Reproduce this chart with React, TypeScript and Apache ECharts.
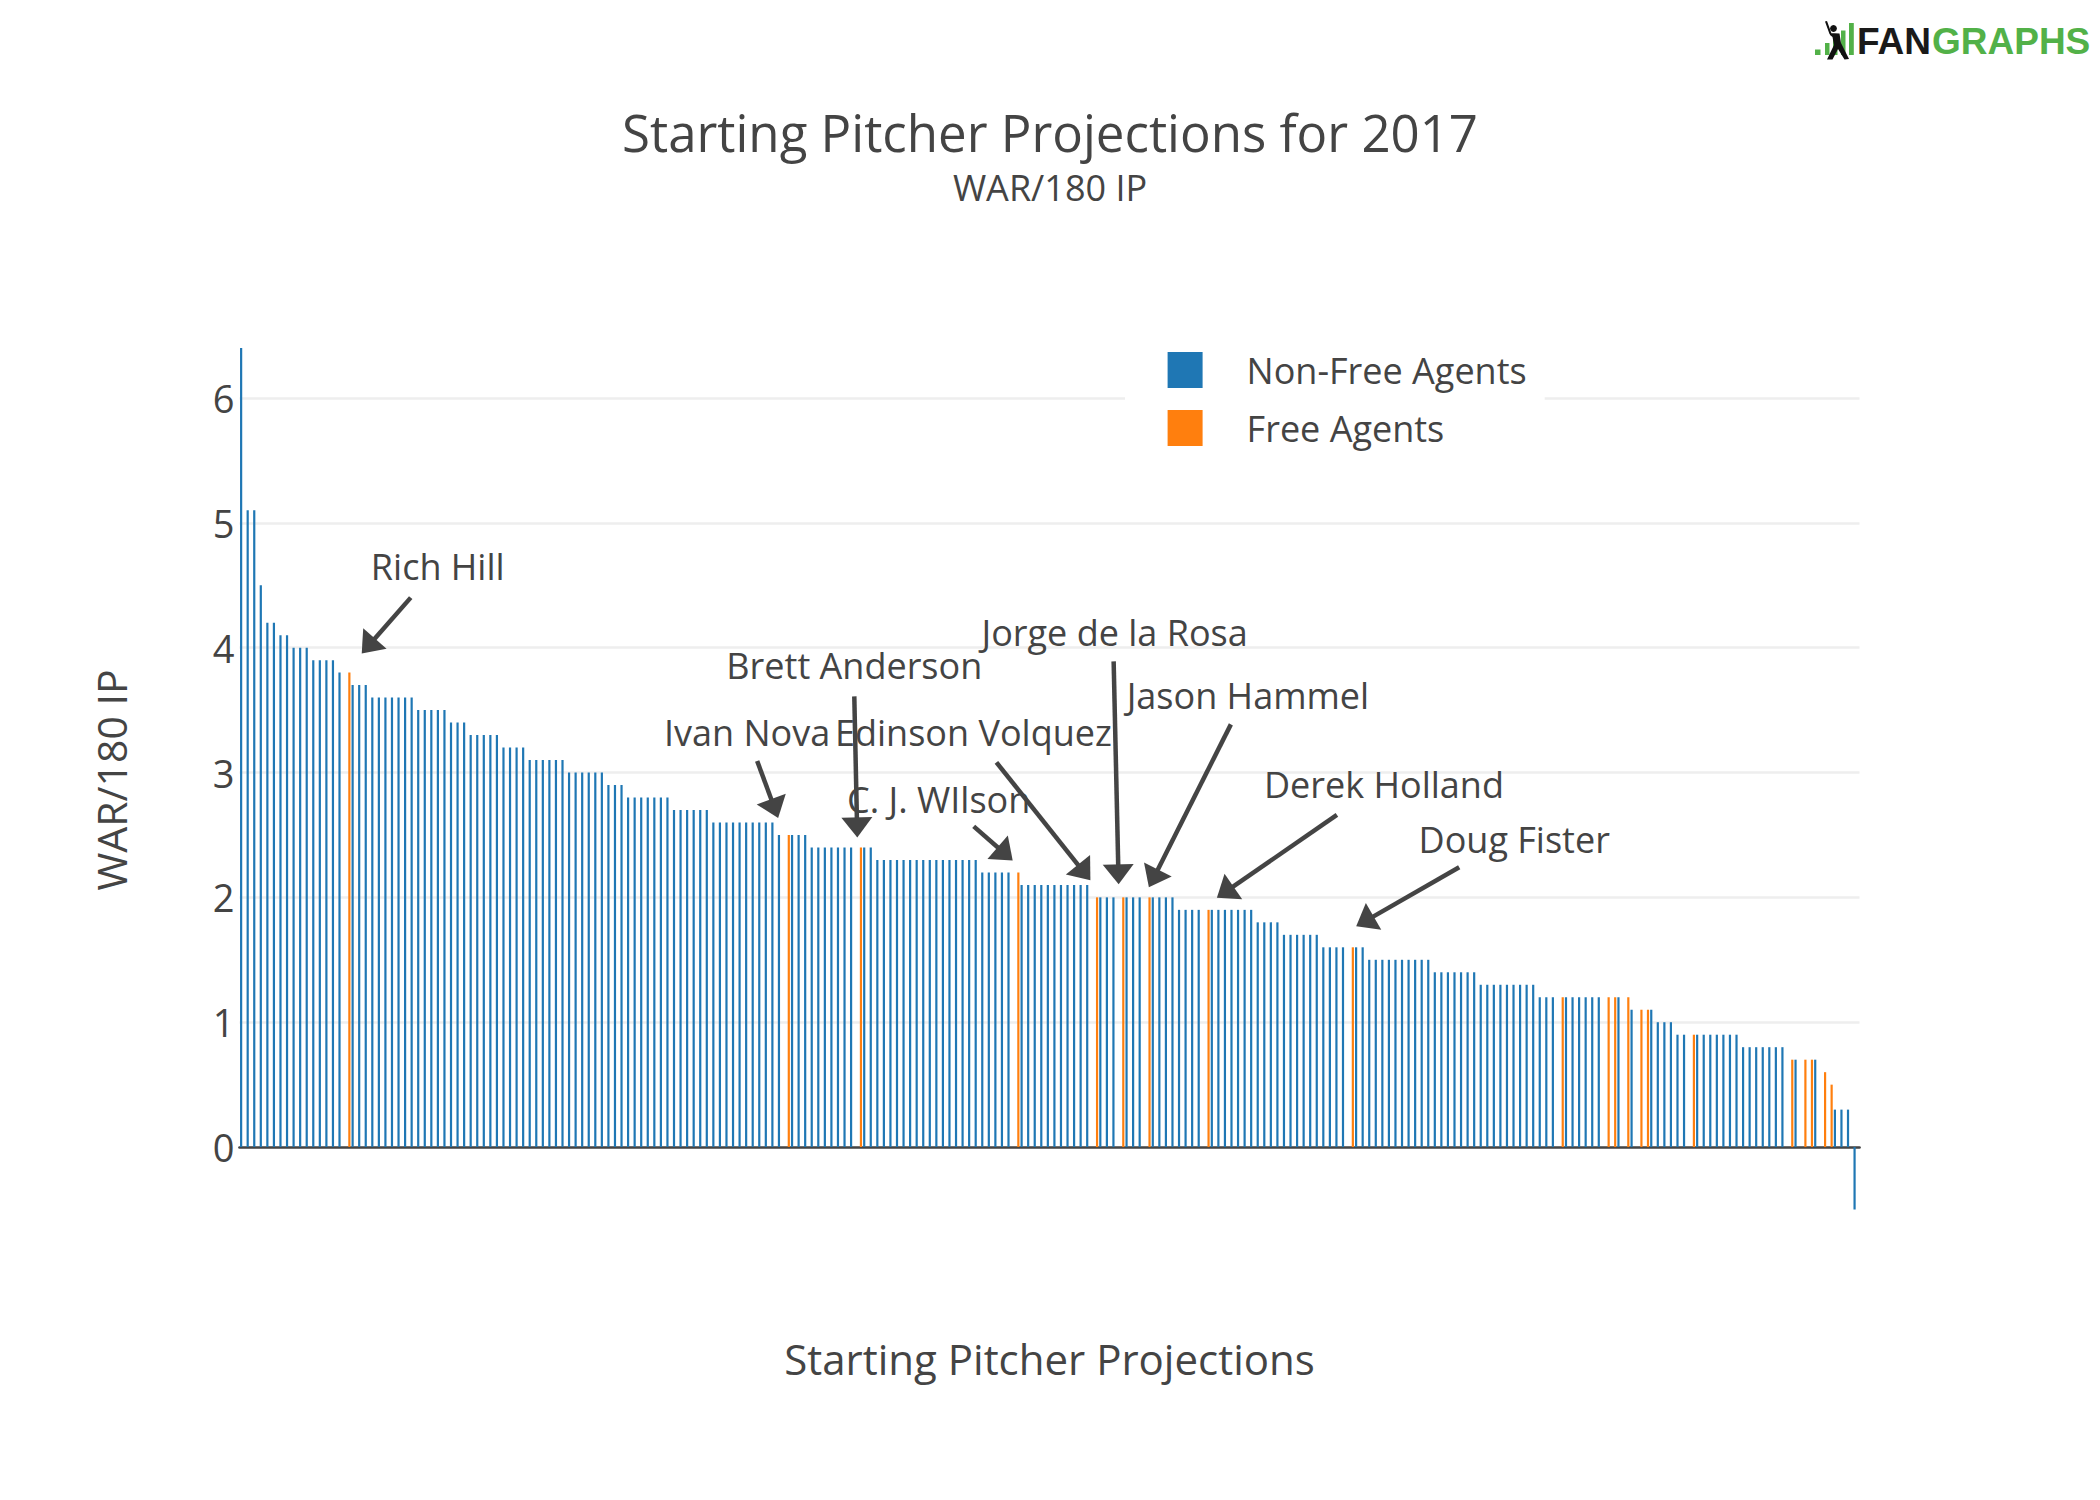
import React, { useEffect, useRef } from "react";
import * as echarts from "echarts";

// WAR/180 IP projections, ordered by rank (category 0 is clipped above the axis top)
const warValues: number[] = [
  7.0,
  5.1, 5.1, 4.5, 4.2, 4.2, 4.1, 4.1, 4.0, 4.0, 4.0,
  3.9, 3.9, 3.9, 3.9, 3.8, 3.8, 3.7, 3.7, 3.7, 3.6,
  3.6, 3.6, 3.6, 3.6, 3.6, 3.6, 3.5, 3.5, 3.5, 3.5,
  3.5, 3.4, 3.4, 3.4, 3.3, 3.3, 3.3, 3.3, 3.3, 3.2,
  3.2, 3.2, 3.2, 3.1, 3.1, 3.1, 3.1, 3.1, 3.1, 3.0,
  3.0, 3.0, 3.0, 3.0, 3.0, 2.9, 2.9, 2.9, 2.8, 2.8,
  2.8, 2.8, 2.8, 2.8, 2.8, 2.7, 2.7, 2.7, 2.7, 2.7,
  2.7, 2.6, 2.6, 2.6, 2.6, 2.6, 2.6, 2.6, 2.6, 2.6,
  2.6, 2.5, 2.5, 2.5, 2.5, 2.5, 2.4, 2.4, 2.4, 2.4,
  2.4, 2.4, 2.4, 2.4, 2.4, 2.4, 2.3, 2.3, 2.3, 2.3,
  2.3, 2.3, 2.3, 2.3, 2.3, 2.3, 2.3, 2.3, 2.3, 2.3,
  2.3, 2.3, 2.2, 2.2, 2.2, 2.2, 2.2, 2.2, 2.1, 2.1,
  2.1, 2.1, 2.1, 2.1, 2.1, 2.1, 2.1, 2.1, 2.1, 2.0,
  2.0, 2.0, 2.0, 2.0, 2.0, 2.0, 2.0, 2.0, 2.0, 2.0,
  2.0, 2.0, 1.9, 1.9, 1.9, 1.9, 1.9, 1.9, 1.9, 1.9,
  1.9, 1.9, 1.9, 1.9, 1.8, 1.8, 1.8, 1.8, 1.7, 1.7,
  1.7, 1.7, 1.7, 1.7, 1.6, 1.6, 1.6, 1.6, 1.6, 1.6,
  1.6, 1.5, 1.5, 1.5, 1.5, 1.5, 1.5, 1.5, 1.5, 1.5,
  1.5, 1.4, 1.4, 1.4, 1.4, 1.4, 1.4, 1.4, 1.3, 1.3,
  1.3, 1.3, 1.3, 1.3, 1.3, 1.3, 1.3, 1.2, 1.2, 1.2,
  1.2, 1.2, 1.2, 1.2, 1.2, 1.2, 1.2, 1.2, 1.2, 1.2,
  1.2, 1.1, 1.1, 1.1, 1.1, 1.0, 1.0, 1.0, 0.9, 0.9,
  0.9, 0.9, 0.9, 0.9, 0.9, 0.9, 0.9, 0.9, 0.8, 0.8,
  0.8, 0.8, 0.8, 0.8, 0.8, 0.7, 0.7, 0.7, 0.7, 0.7,
  0.6, 0.5, 0.3, 0.3, 0.3, -0.5,
];

// categories (ranks) that are free agents
const freeAgentIndices: number[] = [
  16, 83, 94, 118, 130, 134, 138, 147, 169, 201, 208, 209, 211, 213, 214,
  221, 236, 238, 239, 241, 242,
];

const seriesNames = ["Non-Free Agents", "Free Agents"];
const seriesColors = ["#1f77b4", "#ff7f0e"];
const titleText = "Starting Pitcher Projections for 2017";
const subtitleText = "WAR/180 IP";
const xAxisTitle = "Starting Pitcher Projections";
const yAxisTitle = "WAR/180 IP";
const yMin = -0.52;
const yMax = 6.4;

// annotation: target category, arrow tip offset from the bar top, tail & text offsets from the tip (px)
const annotations = [
  { label: "Rich Hill", index: 16, tip: [14, -19], tail: [49, -56], text: [76, -87] },
  { label: "Ivan Nova", index: 83, tip: [-9, -17], tail: [-21, -57], text: [-31, -85] },
  { label: "Brett Anderson", index: 94, tip: [-2, -10], tail: [-3, -141], text: [-3, -172] },
  { label: "C. J. WIlson", index: 118, tip: [-4, -12], tail: [-39, -34], text: [-74, -61] },
  { label: "Edinson Volquez", index: 130, tip: [-5, -17], tail: [-94, -118], text: [-117, -148] },
  { label: "Jorge de la Rosa", index: 134, tip: [-3, -13], tail: [-5, -223], text: [-4, -252] },
  { label: "Jason Hammel", index: 138, tip: [1, -10], tail: [82, -163], text: [99, -192] },
  { label: "Derek Holland", index: 147, tip: [10, -12], tail: [120, -83], text: [167, -113] },
  { label: "Doug Fister", index: 169, tip: [5, -21], tail: [103, -59], text: [158, -87] },
];

const FONT = "'Open Sans', verdana, arial, sans-serif";
const TEXT = "#444";
const GREEN = "#52b148";

const categories = warValues.map((_, i) => String(i + 1));
const faSet = new Set(freeAgentIndices);
const nonFreeData = warValues.map((v, i) => (faSet.has(i) ? null : v));
const freeData = warValues.map((v, i) => (faSet.has(i) ? v : null));

echarts.graphic.registerShape(
  "batter",
  echarts.graphic.extendPath(
    "M6.5,12 L16.5,12.5 L18,22 L26,38 L21.5,38.5 L15,28 L9.5,38.5 L4,38.5 L11,24 L9.5,16 L7,14 Z M2,0.5 L4,0 L8.5,12.5 L6.5,13 Z",
    {}
  ) as any
);

function arrowElements(tipX: number, tipY: number, tailX: number, tailY: number) {
  const dx = tipX - tailX;
  const dy = tipY - tailY;
  const len = Math.hypot(dx, dy) || 1;
  const ux = dx / len;
  const uy = dy / len;
  const nx = -uy;
  const ny = ux;
  const L = 20;
  const W = 15.5;
  const bx = tipX - ux * L;
  const by = tipY - uy * L;
  return [
    {
      type: "line",
      z: 100,
      silent: true,
      shape: { x1: tailX, y1: tailY, x2: bx + ux * 3, y2: by + uy * 3 },
      style: { stroke: TEXT, lineWidth: 4.5 },
    },
    {
      type: "polygon",
      z: 100,
      silent: true,
      shape: { points: [[tipX, tipY], [bx + nx * W, by + ny * W], [bx - nx * W, by - ny * W]] },
      style: { fill: TEXT },
    },
  ];
}

function logoElements() {
  return [
    { type: "rect", shape: { x: 1815, y: 49.5, width: 5.5, height: 5.5 }, style: { fill: GREEN } },
    { type: "rect", shape: { x: 1825, y: 43, width: 4.5, height: 12 }, style: { fill: GREEN } },
    { type: "rect", shape: { x: 1833, y: 37, width: 4.5, height: 18 }, style: { fill: GREEN } },
    { type: "rect", shape: { x: 1841, y: 30.5, width: 4.5, height: 24.5 }, style: { fill: GREEN } },
    { type: "rect", shape: { x: 1849, y: 23, width: 4.8, height: 32 }, style: { fill: GREEN } },
    { type: "batter", x: 1823, y: 21, scaleX: 1, scaleY: 1, style: { fill: "#111" } },
    { type: "circle", shape: { cx: 1833.5, cy: 28.5, r: 3.4 }, style: { fill: "#111" } },
    {
      type: "text",
      x: 1857,
      y: 41,
      style: {
        text: "FAN",
        fontSize: 37,
        fontWeight: "bold",
        fontFamily: "'Liberation Sans', Arial, sans-serif",
        fill: "#1a1a1a",
        align: "left",
        verticalAlign: "middle",
      },
    },
    {
      type: "text",
      x: 1932,
      y: 41,
      style: {
        text: "GRAPHS",
        fontSize: 37,
        fontWeight: "bold",
        fontFamily: "'Liberation Sans', Arial, sans-serif",
        fill: GREEN,
        align: "left",
        verticalAlign: "middle",
      },
    },
  ];
}

const option: any = {
  animation: false,
  backgroundColor: "#ffffff",
  title: {
    text: titleText,
    subtext: subtitleText,
    left: "center",
    top: 102,
    padding: 0,
    itemGap: 5,
    textStyle: { fontFamily: FONT, fontSize: 51, fontWeight: "normal", color: TEXT, lineHeight: 60 },
    subtextStyle: { fontFamily: FONT, fontSize: 36, color: TEXT, lineHeight: 40 },
  },
  legend: {
    data: seriesNames,
    orient: "vertical",
    left: 1125,
    top: 340,
    padding: [12, 18, 12, 42.6],
    itemGap: 22,
    itemWidth: 35,
    itemHeight: 36,
    icon: "rect",
    backgroundColor: "#ffffff",
    z: 10,
    selectedMode: false,
    textStyle: { fontFamily: FONT, fontSize: 36, color: TEXT, padding: [0, 0, 0, 39], lineHeight: 36 },
  },
  grid: { left: 239.5, right: 240.5, top: 348, bottom: 288, containLabel: false },
  xAxis: {
    type: "category",
    data: categories,
    axisLine: { onZero: true, lineStyle: { color: TEXT, width: 2.7 } },
    axisTick: { show: false },
    axisLabel: { show: false },
    splitLine: { show: false },
    name: xAxisTitle,
    nameLocation: "middle",
    nameGap: 125,
    nameTextStyle: { fontFamily: FONT, fontSize: 42, color: TEXT },
  },
  yAxis: {
    type: "value",
    min: yMin,
    max: yMax,
    minInterval: 1,
    maxInterval: 1,
    axisLine: { show: false },
    axisTick: { show: false },
    axisLabel: {
      fontFamily: FONT,
      fontSize: 38,
      color: TEXT,
      margin: 5,
      showMinLabel: false,
      showMaxLabel: false,
      formatter: (v: number) => (Math.abs(v - Math.round(v)) < 1e-6 ? String(Math.round(v)) : ""),
    },
    splitLine: { show: true, showMinLine: false, showMaxLine: false, lineStyle: { color: "#eeeeee", width: 2.7 } },
    name: yAxisTitle,
    nameLocation: "middle",
    nameGap: 108,
    nameTextStyle: { fontFamily: FONT, fontSize: 41, color: TEXT },
  },
  series: [
    {
      name: seriesNames[0],
      type: "bar",
      data: nonFreeData,
      barWidth: 2.2,
      barGap: "50%",
      itemStyle: { color: seriesColors[0] },
      clip: true,
    },
    {
      name: seriesNames[1],
      type: "bar",
      data: freeData,
      barWidth: 2.2,
      barGap: "50%",
      itemStyle: { color: seriesColors[1] },
      clip: true,
    },
  ],
};

export default function App() {
  const ref = useRef<HTMLDivElement>(null);
  useEffect(() => {
    if (!ref.current) return;
    const chart = echarts.init(ref.current, null, { renderer: "svg" });
    chart.setOption(option);
    const graphics: any[] = [...logoElements()];
    annotations.forEach((a) => {
      const p = chart.convertToPixel({ xAxisIndex: 0, yAxisIndex: 0 }, [a.index, warValues[a.index]]) as number[];
      const tipX = p[0] + a.tip[0];
      const tipY = p[1] + a.tip[1];
      graphics.push(...arrowElements(tipX, tipY, tipX + a.tail[0], tipY + a.tail[1]));
      graphics.push({
        type: "text",
        z: 100,
        silent: true,
        x: tipX + a.text[0],
        y: tipY + a.text[1],
        style: {
          text: a.label,
          fontSize: 36,
          fontFamily: FONT,
          fill: TEXT,
          align: "center",
          verticalAlign: "middle",
        },
      });
    });
    chart.setOption({ graphic: graphics });
    return () => chart.dispose();
  }, []);
  return (
    <div
      ref={ref}
      style={{ position: "absolute", left: 0, top: 0, width: 2100, height: 1500, background: "#ffffff" }}
    />
  );
}
